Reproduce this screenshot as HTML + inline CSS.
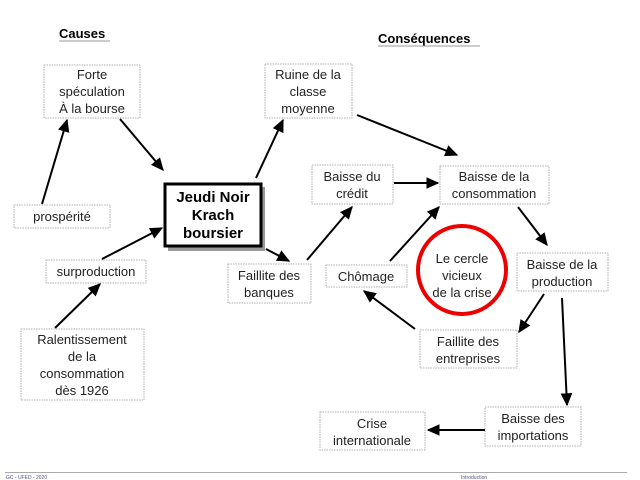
<!DOCTYPE html>
<html><head><meta charset="utf-8"><style>
html,body{margin:0;padding:0;background:#fff;}
svg{display:block;font-family:"Liberation Sans",sans-serif;}
</style></head><body>
<svg width="640" height="480" viewBox="0 0 640 480" xmlns="http://www.w3.org/2000/svg">
<defs>
<marker id="a" viewBox="0 0 10 10" refX="9" refY="5" markerWidth="6.5" markerHeight="6.5" orient="auto"><path d="M0,0.5 L10,5 L0,9.5 z" fill="#000"/></marker>
</defs>
<g font-weight="bold" font-size="13" fill="#000">
<text x="59" y="38">Causes</text><line x1="59" y1="41" x2="110" y2="41" stroke="#999" stroke-width="1"/>
<text x="378" y="43">Conséquences</text><line x1="378" y1="46" x2="480" y2="46" stroke="#999" stroke-width="1"/>
</g>
<g fill="#fff" stroke="#999" stroke-width="0.8" stroke-dasharray="1.5,1">
<rect x="44" y="65" width="96" height="53"/>
<rect x="14" y="205" width="96" height="23"/>
<rect x="46" y="260" width="100" height="23"/>
<rect x="21" y="329" width="123" height="71"/>
<rect x="265" y="64" width="87" height="54"/>
<rect x="312" y="165" width="81" height="39"/>
<rect x="440" y="166" width="109" height="38"/>
<rect x="228" y="264" width="83" height="39"/>
<rect x="326" y="265" width="81" height="22"/>
<rect x="517" y="253" width="91" height="38"/>
<rect x="420" y="330" width="97" height="38"/>
<rect x="485" y="407" width="96" height="39"/>
<rect x="320" y="412" width="105" height="38"/>
</g>
<rect x="168" y="187" width="97" height="64" fill="#999"/>
<rect x="165" y="184" width="96" height="62" fill="#fff" stroke="#000" stroke-width="3"/>
<circle cx="462" cy="270" r="44" fill="none" stroke="#e00" stroke-width="4"/>
<g font-size="13" fill="#222" text-anchor="middle">
<text x="92" y="79">Forte</text><text x="92" y="96">spéculation</text><text x="92" y="113">À la bourse</text>
<text x="62" y="221">prospérité</text>
<text x="96" y="276">surproduction</text>
<text x="82" y="344">Ralentissement</text><text x="82" y="361">de la</text><text x="82" y="378">consommation</text><text x="82" y="395">dès 1926</text>
<text x="308" y="79">Ruine de la</text><text x="308" y="96">classe</text><text x="308" y="113">moyenne</text>
<text x="352" y="181">Baisse du</text><text x="352" y="198">crédit</text>
<text x="494" y="181">Baisse de la</text><text x="494" y="198">consommation</text>
<text x="269" y="280">Faillite des</text><text x="269" y="297">banques</text>
<text x="366" y="281">Chômage</text>
<text x="462" y="263">Le cercle</text><text x="462" y="280">vicieux</text><text x="462" y="297">de la crise</text>
<text x="562" y="269">Baisse de la</text><text x="562" y="286">production</text>
<text x="468" y="346">Faillite des</text><text x="468" y="363">entreprises</text>
<text x="533" y="423">Baisse des</text><text x="533" y="440">importations</text>
<text x="372" y="428">Crise</text><text x="372" y="445">internationale</text>
</g>
<g font-size="15" font-weight="bold" fill="#000" text-anchor="middle">
<text x="213" y="202">Jeudi Noir</text><text x="213" y="220">Krach</text><text x="213" y="238">boursier</text>
</g>
<g stroke="#000" stroke-width="2" marker-end="url(#a)">
<line x1="42" y1="204" x2="67" y2="120"/>
<line x1="120" y1="119" x2="163" y2="170"/>
<line x1="102" y1="259" x2="162" y2="228"/>
<line x1="55" y1="328" x2="100" y2="284"/>
<line x1="256" y1="178" x2="283" y2="120"/>
<line x1="266" y1="249" x2="289" y2="261"/>
<line x1="357" y1="115" x2="457" y2="155"/>
<line x1="307" y1="260" x2="352" y2="207"/>
<line x1="394" y1="183" x2="438" y2="183"/>
<line x1="390" y1="261" x2="439" y2="207"/>
<line x1="518" y1="207" x2="547" y2="245"/>
<line x1="544" y1="294" x2="519" y2="332"/>
<line x1="415" y1="329" x2="364" y2="291"/>
<line x1="562" y1="298" x2="567" y2="405"/>
<line x1="485" y1="430" x2="428" y2="430"/>
</g>
<line x1="5" y1="472.5" x2="627" y2="472.5" stroke="#aaa" stroke-width="1"/>
<text x="6" y="479" font-size="5" fill="#558">GC - UFED - 2020</text>
<text x="461" y="479" font-size="5" fill="#558">Introduction</text>
</svg>
</body></html>
